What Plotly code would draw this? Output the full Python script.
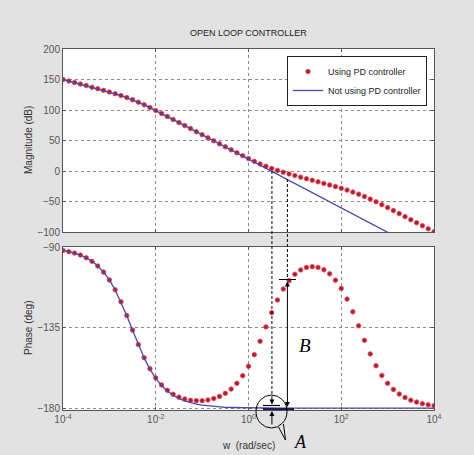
import math
import plotly.graph_objects as go

# ---- data ----
LOG_W = [-4.0, -3.875, -3.75, -3.625, -3.5, -3.375, -3.25, -3.125,
         -3.0, -2.875, -2.75, -2.625, -2.5, -2.375, -2.25, -2.125,
         -2.0, -1.875, -1.75, -1.625, -1.5, -1.375, -1.25, -1.125,
         -1.0, -0.875, -0.75, -0.625, -0.5, -0.375, -0.25, -0.125,
         0.0, 0.125, 0.25, 0.375, 0.5, 0.625, 0.75, 0.875,
         1.0, 1.125, 1.25, 1.375, 1.5, 1.625, 1.75, 1.875,
         2.0, 2.125, 2.25, 2.375, 2.5, 2.625, 2.75, 2.875,
         3.0, 3.125, 3.25, 3.375, 3.5, 3.625, 3.75, 3.875, 4.0]

MAG_NO_PD = [150.0, 147.5, 145.0, 142.5, 140.0, 137.4, 134.9, 132.2,
             129.5, 126.7, 123.7, 120.4, 116.8, 112.8, 108.5, 103.9,
             99.2, 94.3, 89.4, 84.5, 79.5, 74.5, 69.5, 64.5,
             59.5, 54.5, 49.5, 44.5, 39.5, 34.5, 29.5, 24.5,
             19.5, 14.5, 9.5, 4.5, -0.5, -5.5, -10.5, -15.5,
             -20.5, -25.5, -30.5, -35.5, -40.5, -45.5, -50.5, -55.5,
             -60.5, -65.5, -70.5, -75.5, -80.5, -85.5, -90.5, -95.5,
             -100.5, -105.5, -110.5, -115.5, -120.5, -125.5, -130.5, -135.5, -140.5]

MAG_PD = [150.0, 147.5, 145.0, 142.5, 140.0, 137.4, 134.9, 132.2,
          129.5, 126.7, 123.7, 120.4, 116.8, 112.8, 108.5, 103.9,
          99.2, 94.3, 89.4, 84.5, 79.5, 74.5, 69.5, 64.5,
          59.5, 54.5, 49.5, 44.5, 39.6, 34.7, 29.8, 25.0,
          20.3, 15.8, 11.6, 7.7, 4.2, 0.9, -2.0, -4.8,
          -7.5, -10.1, -12.7, -15.2, -17.8, -20.3, -22.9, -25.6,
          -28.3, -31.3, -34.5, -38.0, -41.9, -46.1, -50.5, -55.2,
          -60.0, -64.9, -69.8, -74.8, -79.8, -84.8, -89.8, -94.7, -99.7]

PH_NO_PD = [-91.9, -92.6, -93.4, -94.5, -96.0, -98.0, -100.6, -104.0,
            -108.4, -114.0, -120.7, -128.3, -136.5, -144.6, -151.9, -158.2,
            -163.3, -167.3, -170.4, -172.8, -174.6, -175.9, -177.0, -177.7,
            -178.3, -178.7, -179.0, -179.3, -179.5, -179.6, -179.7, -179.8,
            -179.8, -179.9, -179.9, -179.9, -180.0, -180.0, -180.0, -180.0,
            -180.0, -180.0, -180.0, -180.0, -180.0, -180.0, -180.0, -180.0,
            -180.0, -180.0, -180.0, -180.0, -180.0, -180.0, -180.0, -180.0,
            -180.0, -180.0, -180.0, -180.0, -180.0, -180.0, -180.0, -180.0, -180.0]

PH_PD = [-91.9, -92.6, -93.4, -94.5, -96.0, -98.0, -100.6, -104.0,
         -108.4, -113.9, -120.6, -128.3, -136.4, -144.5, -151.8, -158.0,
         -163.1, -167.0, -170.0, -172.2, -173.8, -174.9, -175.6, -175.8,
         -175.8, -175.4, -174.6, -173.4, -171.7, -169.3, -166.1, -161.9,
         -156.6, -150.1, -142.6, -134.6, -126.7, -119.6, -113.5, -108.8,
         -105.2, -102.8, -101.4, -101.0, -101.4, -102.7, -105.0, -108.5,
         -113.1, -119.1, -126.2, -134.0, -142.1, -149.7, -156.3, -161.7,
         -166.1, -169.5, -172.1, -174.0, -175.5, -176.6, -177.5, -178.1, -178.6]

X_TICKS = [1e-4, 1e-2, 1e0, 1e2, 1e4]
X_TICKTEXT = ["10<sup>-4</sup>", "10<sup>-2</sup>", "10<sup>0</sup>",
              "10<sup>2</sup>", "10<sup>4</sup>"]
MAG_TICKS = [-100, -50, 0, 50, 100, 150, 200]
PH_TICKS = [-180, -135, -90]

W_A = 3.2   # crossover without PD
W_B = 6.9   # marked frequency B

W = [10 ** v for v in LOG_W]

# ---- layout geometry (pixels) ----
FW, FH = 474, 455
L, R, T, B = 63, 40, 49, 45
PW, PH = FW - L - R, FH - T - B


def px(x):
    return (x - L) / PW


def py(y):
    return (FH - B - y) / PH


def xw(w):
    return (math.log10(w) + 4) / 8


TOP_DOM = [py(232), 1.0]
BOT_DOM = [0.0, py(247)]

BLUE = "#4848a8"
GREY_TXT = "#555555"
FONT = "Liberation Sans, Arial, sans-serif"
DOT = dict(color="#a8202e", size=4.5, line=dict(color="#f04858", width=0.9))

fig = go.Figure()
fig.add_trace(go.Scatter(x=W, y=MAG_PD, mode="markers", name="Using PD controller",
                         marker=DOT, xaxis="x", yaxis="y"))
fig.add_trace(go.Scatter(x=W, y=MAG_NO_PD, mode="lines", name="Not using PD controller",
                         line=dict(color=BLUE, width=1.3), xaxis="x", yaxis="y"))
fig.add_trace(go.Scatter(x=W, y=PH_PD, mode="markers", showlegend=False,
                         marker=DOT, xaxis="x2", yaxis="y2"))
fig.add_trace(go.Scatter(x=W, y=PH_NO_PD, mode="lines", showlegend=False,
                         line=dict(color=BLUE, width=1.3), xaxis="x2", yaxis="y2"))

axis_common = dict(showline=True, linecolor="#555555", linewidth=1, mirror="ticks",
                   ticks="inside", ticklen=3, tickcolor="#555555",
                   showgrid=True, gridcolor="#8a8a8a", griddash="3px,3px", gridwidth=1,
                   zeroline=False, tickfont=dict(family=FONT, size=10, color=GREY_TXT))

fig.update_layout(
    width=FW, height=FH,
    margin=dict(l=L, r=R, t=T, b=B),
    paper_bgcolor="#e2e2e2", plot_bgcolor="white",
    showlegend=True,
    legend=dict(x=px(427), y=py(56), xanchor="right", yanchor="top",
                bgcolor="white", bordercolor="#222222", borderwidth=1,
                font=dict(family=FONT, size=9, color="#222222"),
                itemwidth=30, tracegroupgap=0),
    xaxis=dict(type="log", range=[-4, 4], domain=[0, 1], anchor="y",
               tickvals=X_TICKS, showticklabels=False, **axis_common),
    yaxis=dict(range=[-100, 200], domain=TOP_DOM, anchor="x",
               tickvals=MAG_TICKS, **axis_common),
    xaxis2=dict(type="log", range=[-4, 4], domain=[0, 1], anchor="y2",
                tickvals=X_TICKS, ticktext=X_TICKTEXT, **axis_common),
    yaxis2=dict(range=[-181, -90], domain=BOT_DOM, anchor="x2",
                tickvals=PH_TICKS, **axis_common),
)

shapes = []
ann = []
DASH = "3px,2px"

# dashed line at W_A
shapes.append(dict(type="line", xref="paper", yref="paper",
                   x0=xw(W_A), x1=xw(W_A), y0=py(171), y1=py(397),
                   line=dict(color="black", width=1, dash=DASH)))
# dashed line at W_B
shapes.append(dict(type="line", xref="paper", yref="paper",
                   x0=xw(W_B), x1=xw(W_B), y0=py(179), y1=py(279),
                   line=dict(color="black", width=1, dash=DASH)))
# B top bar
shapes.append(dict(type="line", xref="paper", yref="paper",
                   x0=px(279), x1=px(296), y0=py(279.5), y1=py(279.5),
                   line=dict(color="black", width=1)))
# A bars
shapes.append(dict(type="line", xref="paper", yref="paper",
                   x0=px(263), x1=px(280), y0=py(405.5), y1=py(405.5),
                   line=dict(color="black", width=1.2)))
shapes.append(dict(type="line", xref="paper", yref="paper",
                   x0=px(263), x1=px(294), y0=py(409), y1=py(409),
                   line=dict(color="#1c1c55", width=2.2)))
# circle callout
shapes.append(dict(type="circle", xref="paper", yref="paper",
                   x0=px(256), x1=px(287), y0=py(428), y1=py(395),
                   line=dict(color="black", width=1)))
shapes.append(dict(type="line", xref="paper", yref="paper",
                   x0=px(278.5), x1=px(285.5), y0=py(427), y1=py(440),
                   line=dict(color="black", width=1)))
shapes.append(dict(type="line", xref="paper", yref="paper",
                   x0=px(283.5), x1=px(285.5), y0=py(424), y1=py(440),
                   line=dict(color="black", width=1)))

arrow = dict(xref="paper", yref="paper", text="", showarrow=True,
             arrowhead=2, arrowsize=1, arrowwidth=1, arrowcolor="black",
             axref="pixel", ayref="pixel", standoff=0, startstandoff=0)
# B double arrow
ann.append(dict(x=xw(W_B), y=py(407), ax=0, ay=-127, arrowside="end+start", **arrow))
# A arrows
ann.append(dict(x=xw(W_A), y=py(404.5), ax=0, ay=-9, **arrow))
ann.append(dict(x=xw(W_A), y=py(411), ax=0, ay=15, **arrow))

SERIF = "Liberation Serif, DejaVu Serif, serif"
TXT = dict(xref="paper", yref="paper", showarrow=False,
           xanchor="center", yanchor="middle")
# labels
ann.append(dict(x=px(305), y=py(345), text="<i>B</i>",
                font=dict(family=SERIF, size=19, color="black"), **TXT))
ann.append(dict(x=px(300), y=py(442), text="<i>A</i>",
                font=dict(family=SERIF, size=18, color="black"), **TXT))
ann.append(dict(x=px(248), y=py(33), text="OPEN LOOP CONTROLLER",
                font=dict(family=FONT, size=9, color="#222222"), **TXT))
ann.append(dict(x=px(28), y=py(140), text="Magnitude (dB)", textangle=-90,
                font=dict(family=FONT, size=10, color="#333333"), **TXT))
ann.append(dict(x=px(28), y=py(328), text="Phase (deg)", textangle=-90,
                font=dict(family=FONT, size=10, color="#333333"), **TXT))
ann.append(dict(x=px(248), y=py(445), text="w  (rad/sec)",
                font=dict(family=FONT, size=10, color="#333333"), **TXT))

fig.update_layout(shapes=shapes, annotations=ann)
fig.write_html("out.html")
